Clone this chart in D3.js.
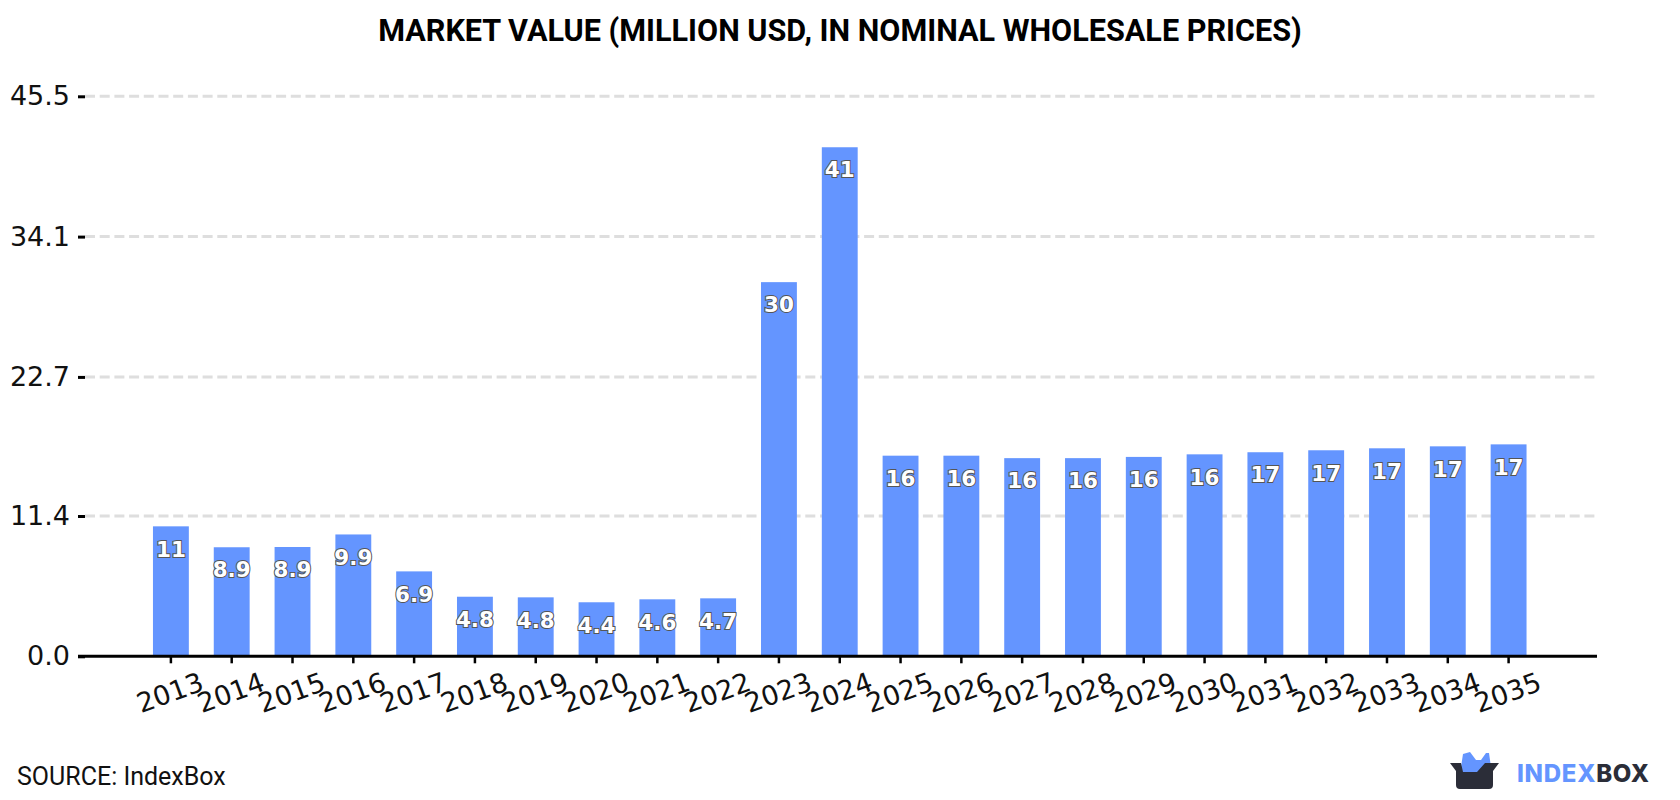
<!DOCTYPE html>
<html>
<head>
<meta charset="utf-8">
<script src="https://cdn.jsdelivr.net/npm/d3@7/dist/d3.min.js"></script>
<style>
html,body{margin:0;padding:0;background:#fff;}
svg{display:block;}
</style>
</head>
<body>
<svg id="chart" width="1680" height="800"></svg>
<script>
const years = ["2013","2014","2015","2016","2017","2018","2019","2020","2021","2022","2023","2024","2025","2026","2027","2028","2029","2030","2031","2032","2033","2034","2035"];
const marketValue = [10.56,8.86,8.88,9.9,6.9,4.84,4.79,4.39,4.63,4.71,30.4,41.36,16.3,16.3,16.1,16.1,16.2,16.41,16.58,16.74,16.9,17.06,17.22];
const yTicks = [0,11.4,22.7,34.1,45.5];
const titleText = "MARKET VALUE (MILLION USD, IN NOMINAL WHOLESALE PRICES)";
const sourceText = "SOURCE: IndexBox";

const svg = d3.select("#chart");
const axisFont = "'DejaVu Sans', sans-serif";
const plot = {left:85, right:1597, top:96.3, bottom:656.3};

const x = d3.scaleBand().domain(years).range([140.5,1539]).paddingInner(0.41).paddingOuter(0.205);
const y = d3.scaleLinear().domain([0,45.5]).range([plot.bottom,plot.top]);
const labelFormat = d3.format(".2");

svg.append("text")
  .attr("x",840).attr("y",41)
  .attr("text-anchor","middle")
  .attr("font-family","Roboto, sans-serif")
  .attr("font-weight",700)
  .attr("font-size",30.6)
  .attr("fill","#000")
  .text(titleText);

// Dashed horizontal grid, behind the bars
svg.append("g").selectAll("line")
  .data(yTicks.filter(d=>d>0))
  .join("line")
  .attr("x1",plot.left).attr("x2",plot.right)
  .attr("y1",d=>y(d)).attr("y2",d=>y(d))
  .attr("stroke","#dedede").attr("stroke-width",3)
  .attr("stroke-dasharray","10 4.7");

// Bars
svg.append("g").selectAll("rect")
  .data(marketValue)
  .join("rect")
  .attr("x",(d,i)=>x(years[i]))
  .attr("width",x.bandwidth())
  .attr("y",d=>y(d))
  .attr("height",d=>y(0)-y(d))
  .attr("fill","#6495ff");

// Value labels inside the bars
svg.append("g").selectAll("text")
  .data(marketValue)
  .join("text")
  .attr("x",(d,i)=>x(years[i])+x.bandwidth()/2)
  .attr("y",d=>y(d)+22.5)
  .attr("dy","0.36em")
  .attr("text-anchor","middle")
  .attr("font-family",axisFont)
  .attr("font-weight",700)
  .attr("font-size",21.5)
  .attr("fill","#fff")
  .attr("stroke","#555")
  .attr("stroke-width",2)
  .attr("paint-order","stroke")
  .text(d=>labelFormat(d));

// Y axis: ticks and labels only
const yAxis = svg.append("g")
  .attr("transform",`translate(${plot.left},0)`)
  .call(d3.axisLeft(y).tickValues(yTicks).tickFormat(d3.format(".1f")).tickSize(7).tickPadding(8));
yAxis.select(".domain").remove();
yAxis.selectAll("line").attr("stroke","#000").attr("stroke-width",3);
yAxis.selectAll("text").attr("font-family",axisFont).attr("font-size",27).attr("fill","#111");

// X axis with tilted year labels
const xAxis = svg.append("g")
  .attr("transform",`translate(0,${plot.bottom})`)
  .call(d3.axisBottom(x).tickSize(7));
xAxis.select(".domain").remove();
xAxis.selectAll("line").attr("stroke","#000").attr("stroke-width",2.5);
xAxis.selectAll("text")
  .attr("font-family",axisFont).attr("font-size",27).attr("fill","#111")
  .attr("text-anchor","middle")
  .attr("y",0).attr("dy","0.36em")
  .attr("transform","translate(-1,36) rotate(-20)");
svg.append("line")
  .attr("x1",78).attr("x2",plot.right)
  .attr("y1",plot.bottom).attr("y2",plot.bottom)
  .attr("stroke","#000").attr("stroke-width",3);

svg.append("text")
  .attr("x",17).attr("y",785)
  .attr("font-family","Roboto, sans-serif")
  .attr("font-size",25)
  .attr("fill","#111")
  .text(sourceText);

// IndexBox logo
const logo = svg.append("g");
logo.append("path")
  .attr("d","M1461 767 L1463 754 L1470 752 L1476 760 L1481 760 L1486 753 L1489 753 L1491 767 L1485 773 L1462 773 Z")
  .attr("fill","#6495ff");
logo.append("path")
  .attr("d","M1450 763 L1461 763 L1463 772 L1477 772 L1485 763 L1499 763 L1493 771 L1493 785 Q1493 789 1489 789 L1460 789 Q1456 789 1456 785 L1456 771 Z")
  .attr("fill","#2b2d38");
const wordmark = svg.append("text")
  .attr("x",1517).attr("y",782)
  .attr("font-family","Inter, Roboto, sans-serif")
  .attr("font-weight",800)
  .attr("font-size",24)
  .attr("textLength",132)
  .attr("lengthAdjust","spacing");
wordmark.append("tspan").attr("fill","#6495ff").text("INDEX");
wordmark.append("tspan").attr("fill","#2b2d38").text("BOX");
</script>
</body>
</html>
